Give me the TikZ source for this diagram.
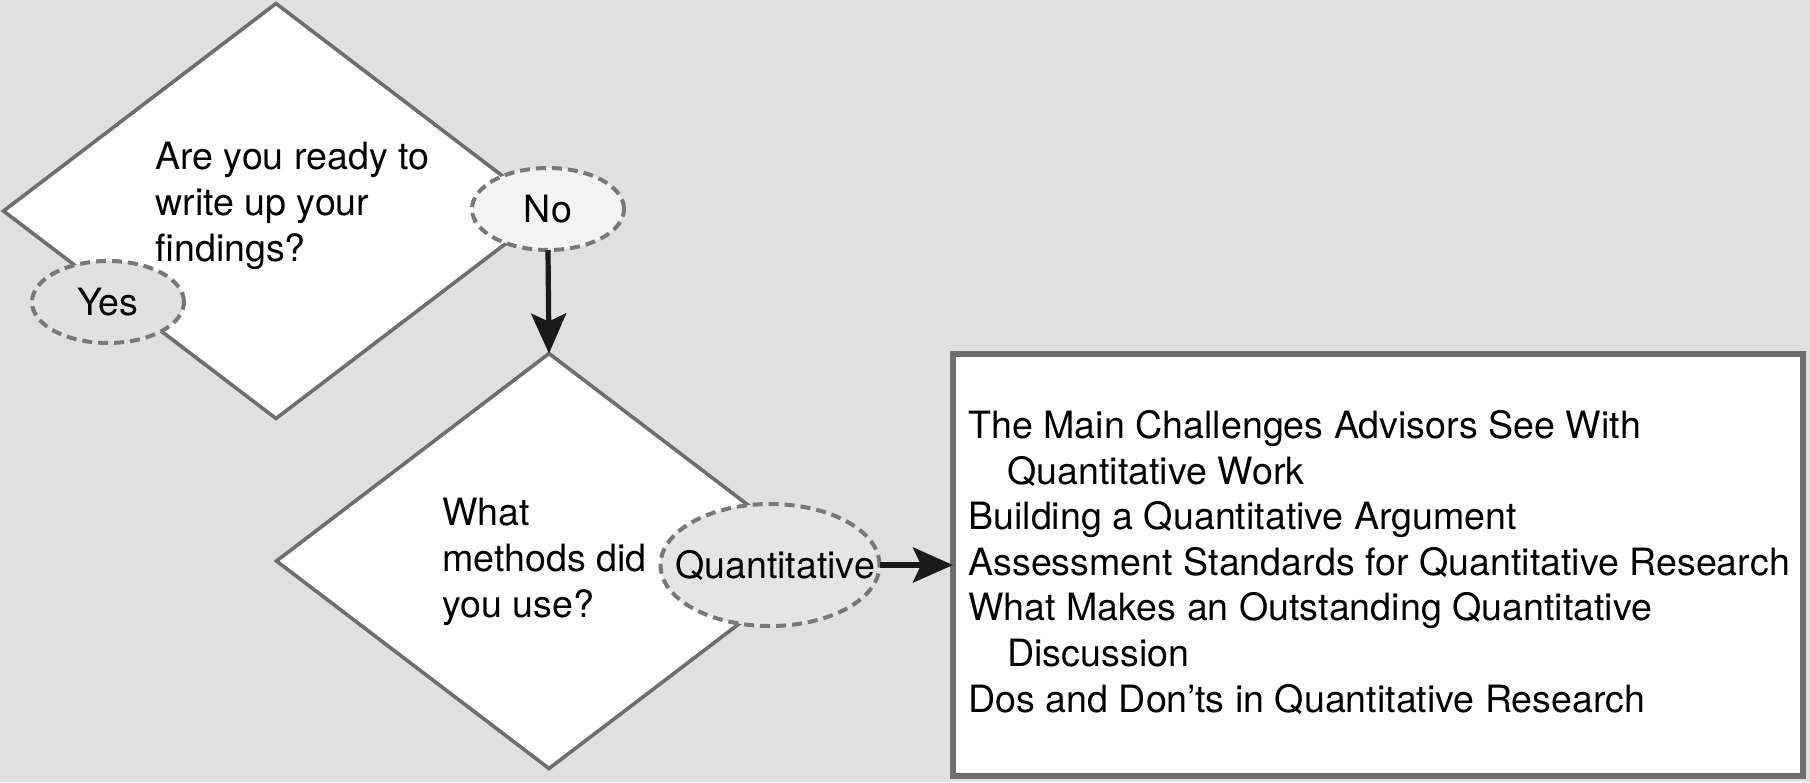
\documentclass[tikz,border=0pt]{standalone}
\usepackage{fontspec}
\setmainfont{TeX Gyre Heros}
\usetikzlibrary{shapes.geometric,arrows.meta}
\definecolor{bg}{HTML}{E0E0E0}
\definecolor{dgray}{HTML}{6E6E6E}
\definecolor{egray}{HTML}{787878}
\definecolor{nofill}{HTML}{F4F4F4}
\definecolor{yesfill}{HTML}{E1E1E1}
\definecolor{qfill}{HTML}{E5E5E5}
\begin{document}
\begin{tikzpicture}[x=0.5pt,y=-0.5pt,
  decision/.style={diamond, draw=dgray, line width=1.8pt, fill=white,
    minimum width=272.5pt, minimum height=207.5pt, inner sep=0pt, outer sep=0pt},
  answer/.style={ellipse, draw=egray, dash pattern=on 5pt off 3pt, line width=2pt,
    inner sep=0pt, outer sep=0pt},
  txt/.style={font=\fontsize{18.8}{22.8}\selectfont, align=left, inner sep=0pt, anchor=base west},
  lbl/.style={font=\fontsize{18.8}{22.8}\selectfont, inner sep=0pt},
  arr/.style={-{Stealth[length=20pt,width=17.5pt,inset=4pt]}, line width=2.6pt, black!90},
  listbox/.style={rectangle, draw=dgray, line width=2.6pt, fill=white, inner sep=0pt, outer sep=0pt}
]
\useasboundingbox[fill=bg] (0,0) rectangle (1810,782);

% decisions
\node[decision] (d1) at (276,211) {};
\node[decision] (d2) at (549,561) {};

% box
\node[listbox, minimum width=425pt, minimum height=211pt] (box) at (1378,565) {};

% answers
\node[answer, fill=nofill, minimum width=76pt, minimum height=41pt,
  label={[lbl]center:No}] (no) at (548,209) {};
\node[answer, fill=yesfill, minimum width=76pt, minimum height=41pt,
  label={[lbl]center:Yes}] (yes) at (108,302) {};
\node[answer, fill=qfill, minimum width=109.5pt, minimum height=61pt,
  label={[lbl, xshift=2.5pt]center:Quantitative}] (quant) at (770,565) {};

% texts (anchored at the baseline of the last line)
\node[txt] (t1) at (155,261) {Are you ready to\\write up your\\findings?};
\node[txt] (t2) at (442,617) {What\\methods did\\you use?};
\node[txt] (t3) at (968,712) {The Main Challenges Advisors See With\\
\hspace*{19.5pt}Quantitative Work\\
Building a Quantitative Argument\\
Assessment Standards for Quantitative Research\\
What Makes an Outstanding Quantitative\\
\hspace*{19.5pt}Discussion\\
Dos and Don’ts in Quantitative Research};

% connectors
\draw[arr] (no.south) -- (d2.north);
\draw[arr] (quant.east) -- (box.west);
\end{tikzpicture}
\end{document}
